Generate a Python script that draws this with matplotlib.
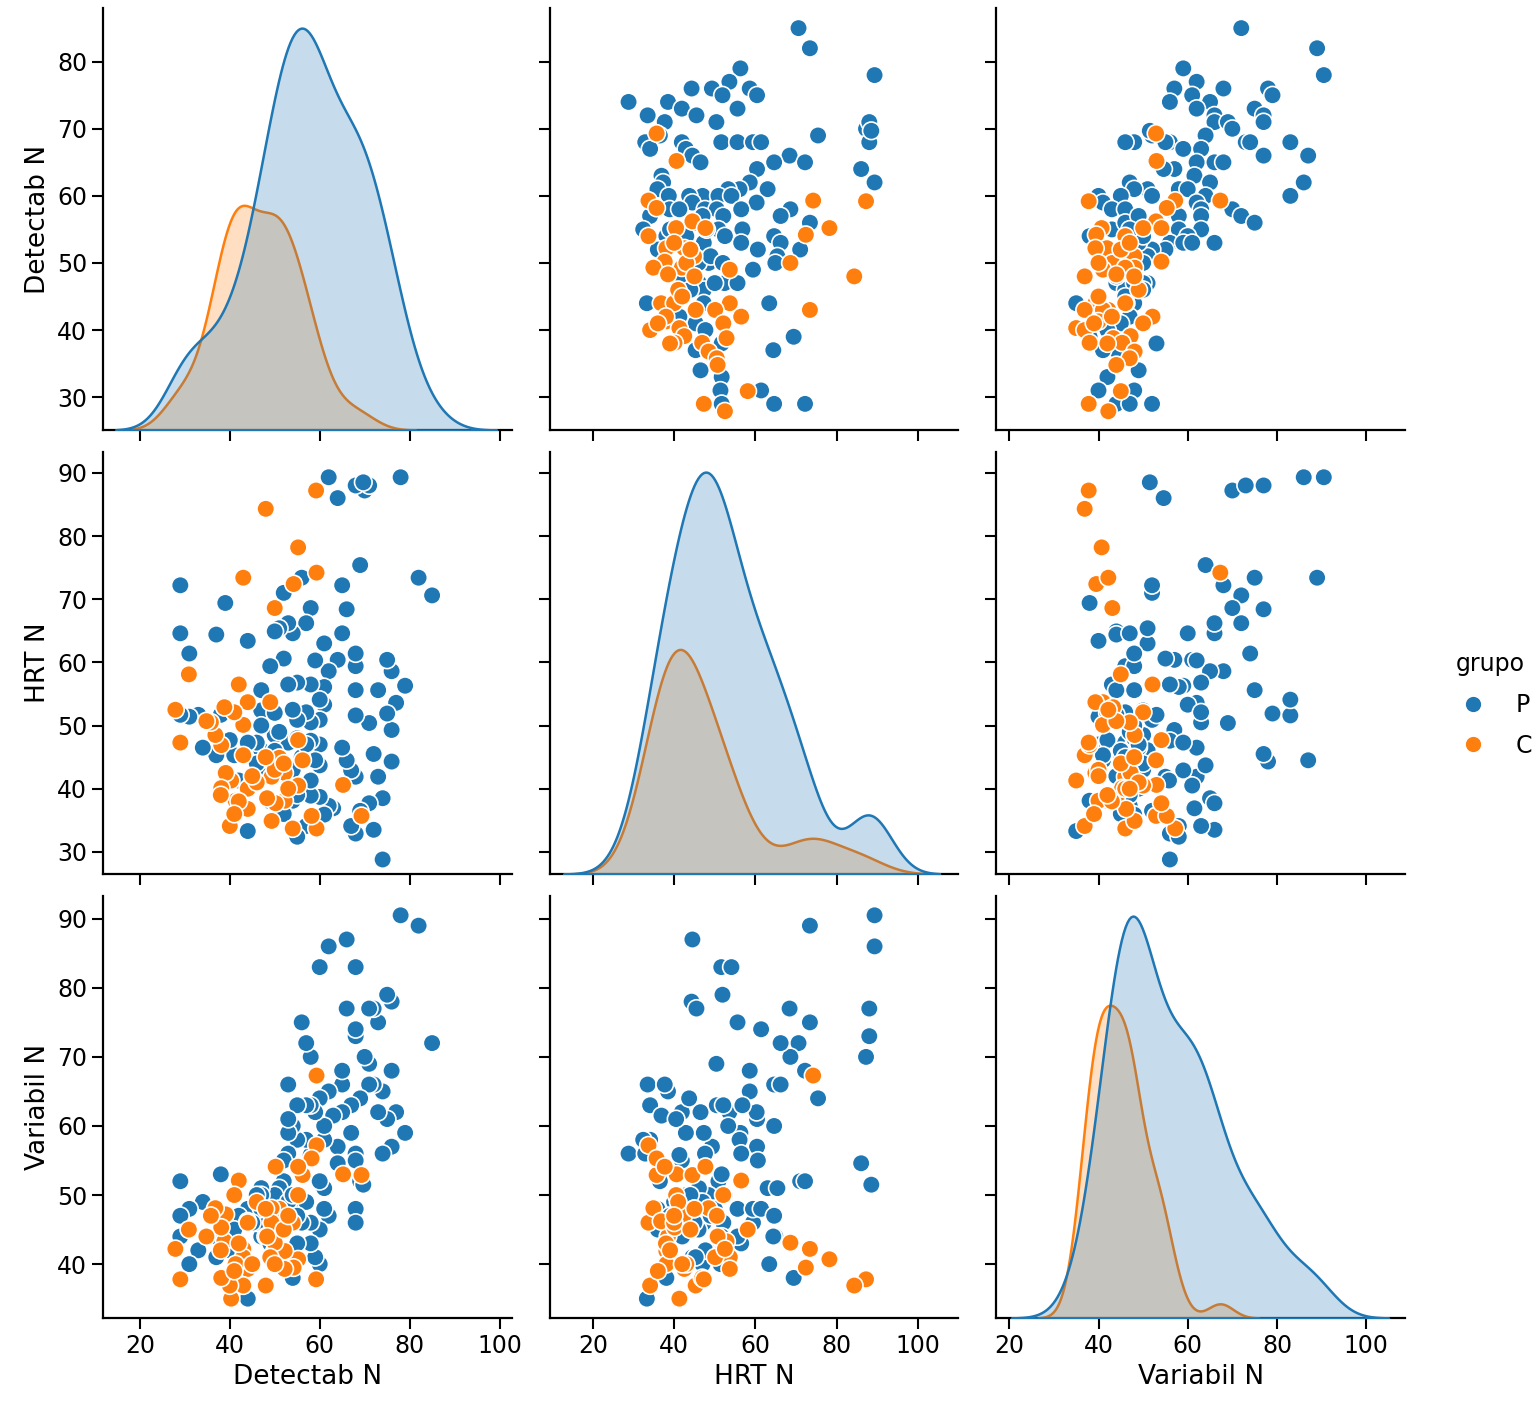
import pandas as pd
import matplotlib
matplotlib.use("Agg")
import matplotlib.pyplot as plt
from matplotlib.lines import Line2D
import seaborn as sns

# grupo P
detectab_p = [85, 82, 79, 78, 77, 76, 76, 76, 75, 75, 74, 74, 73, 73, 72, 72, 71, 71, 70, 69,
              69, 68, 68, 68, 68, 68, 68, 68, 67, 67, 66, 66, 65, 65, 65, 64, 64, 63, 62, 62,
              62, 61, 61, 61, 61, 60, 60, 60, 60, 60, 59, 59, 58, 58, 58, 58, 58, 58, 57, 57,
              57, 56, 55, 55, 55, 54, 54, 54, 53, 53, 53, 53, 52, 52, 51, 50, 50, 50, 49, 47,
              47, 47, 46, 44, 44, 44, 42, 41, 40, 39, 38, 37, 37, 34, 33, 31, 31, 29, 29, 29,
              71, 69.7, 52, 50, 55, 48, 53, 56, 51, 49, 54, 47, 45, 57, 52, 50, 46, 55]
hrt_p = [70.6, 73.4, 56.3, 89.3, 53.6, 58.6, 44.3, 49.3, 60.4, 51.9, 28.8, 38.5, 41.9, 55.6, 33.5, 45.5, 37.7, 50.4, 87.2, 75.4,
         36.5, 88.0, 32.9, 41.9, 51.6, 55.6, 59.4, 61.4, 34.1, 42.9, 44.5, 68.4, 46.5, 64.6, 72.2, 60.4, 86.0, 36.9, 89.3, 58.6,
         37.3, 63.0, 56.1, 53.3, 35.9, 38.7, 47.0, 43.7, 50.9, 54.1, 60.3, 44.5, 47.6, 56.5, 38.9, 68.6, 41.3, 50.5, 34.1, 66.2,
         52.1, 73.4, 32.4, 56.8, 50.9, 64.6, 52.5, 38.1, 66.2, 56.5, 47.3, 40.5, 60.6, 71.0, 65.4, 48.5, 52.1, 64.9, 59.4, 46.1,
         52.4, 55.6, 47.3, 47.3, 33.3, 63.4, 41.3, 45.3, 47.7, 69.4, 51.7, 64.4, 45.3, 46.5, 51.7, 61.4, 51.4, 51.7, 64.6, 72.2,
         88.0, 88.5, 44.0, 46.0, 48.0, 42.0, 40.0, 45.0, 49.0, 38.0, 43.0, 50.0, 41.0, 47.0, 36.0, 52.0, 44.0, 39.0]
variabil_p = [72, 89, 59, 90.5, 62, 68, 78, 57, 61, 79, 56, 65, 62, 75, 66, 77, 66, 69, 70, 64,
              52, 73, 56, 55, 83, 48, 46, 74, 63, 59, 87, 77, 62, 66, 68, 57, 54.6, 61.5, 86, 65,
              47, 51, 58, 60, 48, 45, 40, 64, 52, 83, 62, 41, 56, 43, 46, 70, 55.8, 63, 58, 72,
              63, 75, 58, 63, 43, 60, 50, 38, 66, 56, 59, 61, 55, 52, 51, 50, 46, 44, 48, 51,
              50, 44, 46, 48, 35, 40, 47, 45, 42, 38, 53, 44, 41, 49, 42, 48, 40, 44, 47, 52,
              77, 51.5, 47, 45, 48, 44, 49, 46, 47, 43, 50, 48, 46, 49, 45, 42, 50, 47]

# grupo C
detectab_c = [69.3, 65.2, 59.3, 59.3, 59.2, 58.2, 56.2, 55.2, 55.2, 55.2, 54.2, 54.0, 52.2, 52.2,
              51.0, 50.2, 50.0, 49.3, 49.3, 49.0, 48.3, 48.0, 44.0, 44.0, 43.0, 43.0, 43.0, 42.0,
              41.3, 41.0, 40.3, 40.0, 39.1, 38.8, 38.1, 38.1, 36.8, 35.8, 34.8, 30.9, 29.0, 27.9,
              44, 42, 50, 46, 38, 52, 41, 48, 45, 53]
hrt_c = [35.7, 40.6, 74.2, 33.7, 87.2, 35.7, 44.5, 40.5, 47.7, 78.2, 72.4, 33.7, 38.1, 42.5,
         44.9, 37.7, 68.6, 34.9, 41.9, 53.7, 38.5, 84.3, 36.8, 53.7, 73.4, 45.3, 50.1, 56.5,
         38.1, 52.1, 41.3, 34.1, 42.5, 52.9, 40.1, 46.9, 48.5, 50.5, 50.7, 58.1, 47.3, 52.5,
         40, 38, 43, 41, 39, 44, 36, 45, 42, 40]
variabil_c = [52.9, 53.0, 67.3, 57.2, 37.8, 55.3, 52.9, 50.0, 54.1, 40.7, 39.5, 46.0, 41.9, 39.3,
              48.0, 54.1, 43.1, 48.1, 46.0, 41.0, 44.0, 36.9, 46.2, 39.3, 42.2, 36.9, 41.0, 52.1,
              40.0, 50.0, 35.0, 36.9, 47.2, 43.3, 45.3, 38.0, 48.1, 47.0, 44.0, 45.0, 37.8, 42.2,
              46, 43, 40, 49, 42, 45, 39, 48, 40, 47]

grupos = ["P", "C"]
variables = ["Detectab N", "HRT N", "Variabil N"]

df = pd.DataFrame({
    "Detectab N": detectab_p + detectab_c,
    "HRT N": hrt_p + hrt_c,
    "Variabil N": variabil_p + variabil_c,
    "grupo": ["P"] * len(detectab_p) + ["C"] * len(detectab_c),
})

plt.rcParams.update({
    "font.size": 17,
    "axes.labelsize": 19,
    "xtick.labelsize": 17,
    "ytick.labelsize": 17,
    "axes.linewidth": 1.6,
    "xtick.major.size": 8,
    "ytick.major.size": 8,
    "xtick.major.width": 1.5,
    "ytick.major.width": 1.5,
})

g = sns.PairGrid(df, hue="grupo", hue_order=grupos, vars=variables, height=4.5,
                 diag_sharey=False)
g.map_diag(sns.kdeplot, fill=True, linewidth=1.8, warn_singular=False)
g.map_offdiag(sns.scatterplot, s=160, edgecolor="white", linewidth=1.2)

fig = g.figure
fig.set_size_inches(15.35, 14.08)
fig.subplots_adjust(left=103 / 1535, right=1405 / 1535, bottom=1 - 1318 / 1408,
                    top=1 - 8 / 1408, wspace=0.093, hspace=0.052)

xlims = [(11.8, 102.7), (9.4, 109.9), (17.1, 108.7)]
ylims = [(25.1, 88.0), (26.5, 93.3), (32.2, 93.3)]
for i in range(3):
    for j in range(3):
        g.axes[i, j].set_xlim(xlims[j])
        g.axes[i, j].set_ylim(ylims[i])
        g.axes[i, j].set_xticks([20, 40, 60, 80, 100])

colores = sns.color_palette()[:2]
handles = [Line2D([], [], marker="o", linestyle="", markersize=12, markerfacecolor=c,
                  markeredgecolor="white") for c in colores]
fig.legend(handles, grupos, title="grupo", loc="center left",
           bbox_to_anchor=(1428 / 1535, 1 - 705 / 1408), frameon=False,
           fontsize=17, title_fontsize=17, handletextpad=0.8, labelspacing=0.7)

fig.savefig("out.png", dpi=100)
